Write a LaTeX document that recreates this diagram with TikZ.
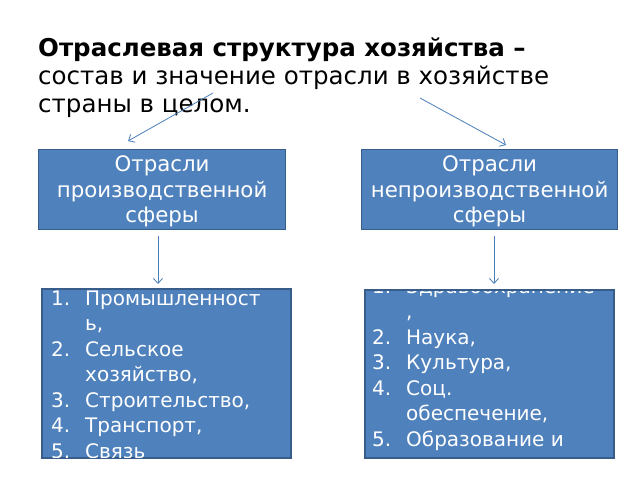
\documentclass[tikz,border=0pt]{standalone}
\usepackage{fontspec}
\setmainfont{DejaVu Sans}
\usetikzlibrary{arrows.meta}
\definecolor{boxfill}{RGB}{79,129,189}
\definecolor{boxline}{RGB}{56,93,138}
\definecolor{arrowc}{RGB}{74,126,187}
\tikzset{
  bluebox/.style={draw=boxline, line width=1.2pt, fill=boxfill, rectangle, inner sep=0pt},
  titleline/.style={anchor=base west, inner sep=0pt, font=\fontsize{24.5}{28}\selectfont, text=black},
  headtext/.style={align=center, inner sep=0pt, text=white, font=\fontsize{21.3}{25.5}\selectfont},
  listtext/.style={anchor=base west, inner sep=0pt, text=white, font=\fontsize{20}{25.5}\selectfont},
  conn/.style={draw=arrowc, line width=0.8pt, -{Straight Barb[length=5pt,width=9pt]}}
}
\newcommand{\numitem}[2]{\makebox[34pt][l]{#1}#2}
\begin{document}
\begin{tikzpicture}[x=1pt,y=-1pt]
\useasboundingbox[fill=white] (0,0) rectangle (640,480);
% title
\node[titleline] (t1) at (38,56) {\bfseries Отраслевая структура хозяйства –};
\node[titleline] (t2) at (38,84) {состав и значение отрасли в хозяйстве};
\node[titleline] (t3) at (38,112) {страны в целом.};
% top boxes
\node[bluebox, minimum width=247pt, minimum height=80pt, anchor=north west] (lbox) at (38,149) {};
\node[bluebox, minimum width=256pt, minimum height=80pt, anchor=north west] (rbox) at (361,149) {};
\node[headtext] (ltext) at ([yshift=-2pt]lbox.center) {Отрасли\\производственной\\сферы};
\node[headtext] (rtext) at ([yshift=-2pt]rbox.center) {Отрасли\\непроизводственной\\сферы};
% bottom boxes
\node[bluebox, minimum width=248pt, minimum height=168pt, anchor=north west] (llist) at (42,289) {};
\node[bluebox, minimum width=248pt, minimum height=167pt, anchor=north west] (rlist) at (365,290) {};
\begin{scope}
\clip (llist.north west) rectangle (llist.south east);
\node[listtext] (llistt) at (51,305) {\begin{tabular}[t]{@{}l@{}}
\numitem{1.}{Промышленност}\\
\numitem{}{ь,}\\
\numitem{2.}{Сельское}\\
\numitem{}{хозяйство,}\\
\numitem{3.}{Строительство,}\\
\numitem{4.}{Транспорт,}\\
\numitem{5.}{Связь}
\end{tabular}};
\end{scope}
\begin{scope}
\clip (rlist.north west) rectangle (rlist.south east);
\node[listtext] (rlistt) at (372,293) {\begin{tabular}[t]{@{}l@{}}
\numitem{1.}{Здравоохранение}\\
\numitem{}{,}\\
\numitem{2.}{Наука,}\\
\numitem{3.}{Культура,}\\
\numitem{4.}{Соц.}\\
\numitem{}{обеспечение,}\\
\numitem{5.}{Образование и}
\end{tabular}};
\end{scope}
\draw[draw=boxline, line width=1.2pt] (llist.north west) rectangle (llist.south east);
\draw[draw=boxline, line width=1.2pt] (rlist.north west) rectangle (rlist.south east);
% connectors
\coordinate (a1s) at (213,93);
\coordinate (a1e) at (128,141);
\coordinate (a2s) at (420,98);
\coordinate (a2e) at (506,145);
\coordinate (a3s) at (158,236);
\coordinate (a3e) at (158,284);
\coordinate (a4s) at (494,236);
\coordinate (a4e) at (494,284);
\draw[conn] (a1s) -- (a1e);
\draw[conn] (a2s) -- (a2e);
\draw[conn] (a3s) -- (a3e);
\draw[conn] (a4s) -- (a4e);
\end{tikzpicture}
\end{document}
